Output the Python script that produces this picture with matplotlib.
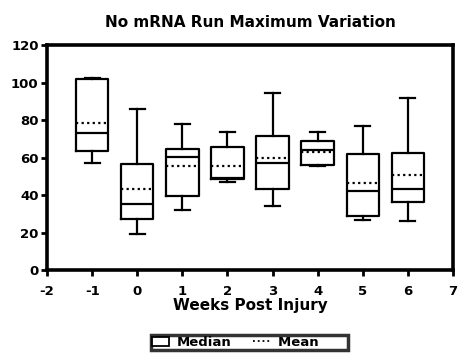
import matplotlib
matplotlib.use("Agg")
import matplotlib.pyplot as plt
from matplotlib.patches import Rectangle
from matplotlib.lines import Line2D

# weeks post injury and box stats
weeks = [-1, 0, 1, 2, 3, 4, 5, 6]
whis_lo = [57.2, 19.2, 32.0, 46.9, 34.3, 55.3, 26.8, 26.1]
q1 = [63.5, 27.4, 39.3, 48.7, 43.4, 56.0, 28.6, 36.4]
medians = [72.9, 35.2, 60.3, 49.2, 57.2, 63.8, 42.3, 43.4]
q3 = [101.7, 56.5, 64.3, 65.4, 71.5, 68.6, 61.9, 62.4]
whis_hi = [102.6, 86.0, 78.0, 73.8, 94.2, 73.8, 77.0, 91.6]
means = [78.6, 43.0, 55.6, 55.6, 59.5, 62.8, 46.6, 50.5]

stats = []
for i in range(len(weeks)):
    stats.append({"whislo": whis_lo[i], "q1": q1[i], "med": medians[i],
                  "q3": q3[i], "whishi": whis_hi[i], "mean": means[i],
                  "fliers": []})

fig = plt.figure(figsize=(4.74, 3.55), dpi=100)
ax = fig.add_axes([0.0992, 0.2394, 0.8565, 0.6338])

lw = 1.6
ax.bxp(stats, positions=weeks, widths=0.72, showmeans=True, meanline=True,
       showfliers=False, patch_artist=False,
       boxprops=dict(color="black", linewidth=lw),
       medianprops=dict(color="black", linewidth=lw),
       meanprops=dict(color="black", linewidth=lw, linestyle=(0, (1, 1.5))),
       whiskerprops=dict(color="black", linewidth=lw),
       capprops=dict(color="black", linewidth=lw),
       capwidths=0.33)

ax.set_xlim(-2, 7)
ax.set_ylim(0, 120)
ax.set_xticks(range(-2, 8))
ax.set_xticklabels([str(v) for v in range(-2, 8)])
ax.set_yticks(range(0, 121, 20))

for s in ax.spines.values():
    s.set_linewidth(2.6)
ax.tick_params(direction="out", length=4, width=2, labelsize=9.5)
ax.tick_params(axis="x", pad=7)
ax.tick_params(axis="y", pad=2)
for lab in ax.get_xticklabels() + ax.get_yticklabels():
    lab.set_fontweight("bold")

ax.set_title("No mRNA Run Maximum Variation", fontsize=11, fontweight="bold", pad=13)
ax.set_xlabel("Weeks Post Injury", fontsize=11, fontweight="bold", labelpad=0)

handles = [Rectangle((0, 0), 1, 1, facecolor="white", edgecolor="black", linewidth=1.3),
           Line2D([], [], color="black", linestyle=":", linewidth=1.3)]
leg = fig.legend(handles, ["Median", "Mean      "], loc="center",
                 bbox_to_anchor=(0.526, 0.035), ncol=2, fancybox=False,
                 edgecolor="black", prop=dict(weight="bold", size=9.5),
                 borderpad=0.1, handlelength=1.3, handletextpad=0.6,
                 columnspacing=1.6, borderaxespad=0.2, frameon=True)
leg.get_frame().set_linewidth(2.5)

fig.savefig("out.png", dpi=100)
